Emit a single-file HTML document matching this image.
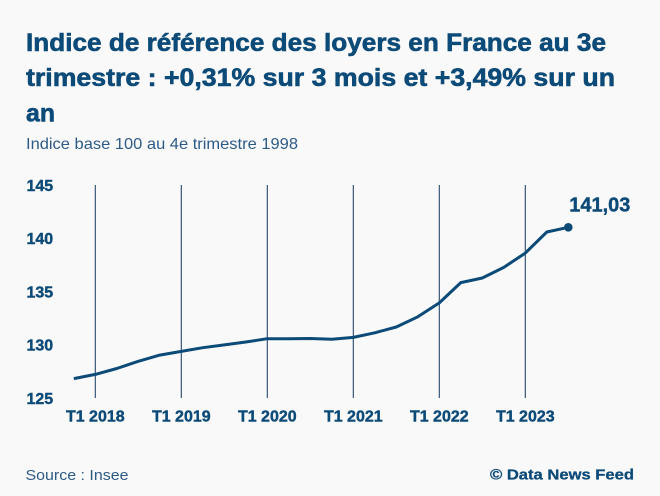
<!DOCTYPE html>
<html>
<head>
<meta charset="utf-8">
<style>
  html, body { margin:0; padding:0; background:#f9f9f9; }
  body { width:660px; height:496px; overflow:hidden; }
  svg { display:block; }
  text { font-family: "Liberation Sans", "DejaVu Sans", sans-serif; }
</style>
</head>
<body>
<svg width="660" height="496" viewBox="0 0 660 496" xmlns="http://www.w3.org/2000/svg">
  <rect x="0" y="0" width="660" height="496" fill="#f9f9f9"/>

  <!-- Title -->
  <g font-size="25" font-weight="bold" fill="#0c4a78" stroke="#0c4a78" stroke-width="0.6">
    <text x="26" y="51" textLength="580" lengthAdjust="spacingAndGlyphs">Indice de référence des loyers en France au 3e</text>
    <text x="26" y="86" textLength="589" lengthAdjust="spacingAndGlyphs">trimestre : +0,31% sur 3 mois et +3,49% sur un</text>
    <text x="26" y="121.5" textLength="29" lengthAdjust="spacingAndGlyphs">an</text>
  </g>

  <!-- Subtitle -->
  <text x="26" y="149" font-size="16" fill="#2d5b86" textLength="272" lengthAdjust="spacingAndGlyphs">Indice base 100 au 4e trimestre 1998</text>

  <!-- Vertical gridlines -->
  <g stroke="#28476a" stroke-width="1.1">
    <line x1="95.3" y1="185" x2="95.3" y2="398"/>
    <line x1="181.3" y1="185" x2="181.3" y2="398"/>
    <line x1="267.3" y1="185" x2="267.3" y2="398"/>
    <line x1="353.3" y1="185" x2="353.3" y2="398"/>
    <line x1="439.3" y1="185" x2="439.3" y2="398"/>
    <line x1="525.3" y1="185" x2="525.3" y2="398"/>
  </g>

  <!-- Y labels -->
  <g font-size="16" font-weight="bold" fill="#0c4a78" stroke="#0c4a78" stroke-width="0.4">
    <text x="26.5" y="190.8">145</text>
    <text x="26.5" y="244.1">140</text>
    <text x="26.5" y="297.4">135</text>
    <text x="26.5" y="350.6">130</text>
    <text x="26.5" y="403.8">125</text>
  </g>

  <!-- X labels -->
  <g font-size="16" font-weight="bold" fill="#0c4a78" stroke="#0c4a78" stroke-width="0.4" text-anchor="middle">
    <text x="95.3" y="421.5">T1 2018</text>
    <text x="181.3" y="421.5">T1 2019</text>
    <text x="267.3" y="421.5">T1 2020</text>
    <text x="353.3" y="421.5">T1 2021</text>
    <text x="439.3" y="421.5">T1 2022</text>
    <text x="525.3" y="421.5">T1 2023</text>
  </g>

  <!-- Series -->
  <polyline fill="none" stroke="#0c4a78" stroke-width="3" stroke-linejoin="round" stroke-linecap="butt"
    points="73.8,378.6 95.3,374.4 116.8,368.5 138.3,361.3 159.8,355.1 181.3,351.4 202.8,347.7 224.3,344.9 245.8,342.0 267.3,338.7 288.8,338.7 310.3,338.5 331.8,339.2 353.3,337.4 374.8,332.8 396.3,327.0 417.8,316.8 439.3,302.9 460.8,282.6 482.3,278.0 503.8,267.4 525.3,253.1 546.8,232.0 568.3,227.3"/>
  <circle cx="568.3" cy="227.3" r="4.3" fill="#0c4a78"/>
  <text x="569.3" y="211.7" font-size="20" font-weight="bold" fill="#0c4a78" stroke="#0c4a78" stroke-width="0.4" textLength="61" lengthAdjust="spacingAndGlyphs">141,03</text>

  <!-- Footer -->
  <text x="25.5" y="480" font-size="15" fill="#2d5b86" textLength="103" lengthAdjust="spacingAndGlyphs">Source : Insee</text>
  <text x="634" y="479.5" font-size="15" font-weight="bold" fill="#0c4a78" stroke="#0c4a78" stroke-width="0.3" text-anchor="end" textLength="144" lengthAdjust="spacingAndGlyphs">© Data News Feed</text>
</svg>
</body>
</html>
